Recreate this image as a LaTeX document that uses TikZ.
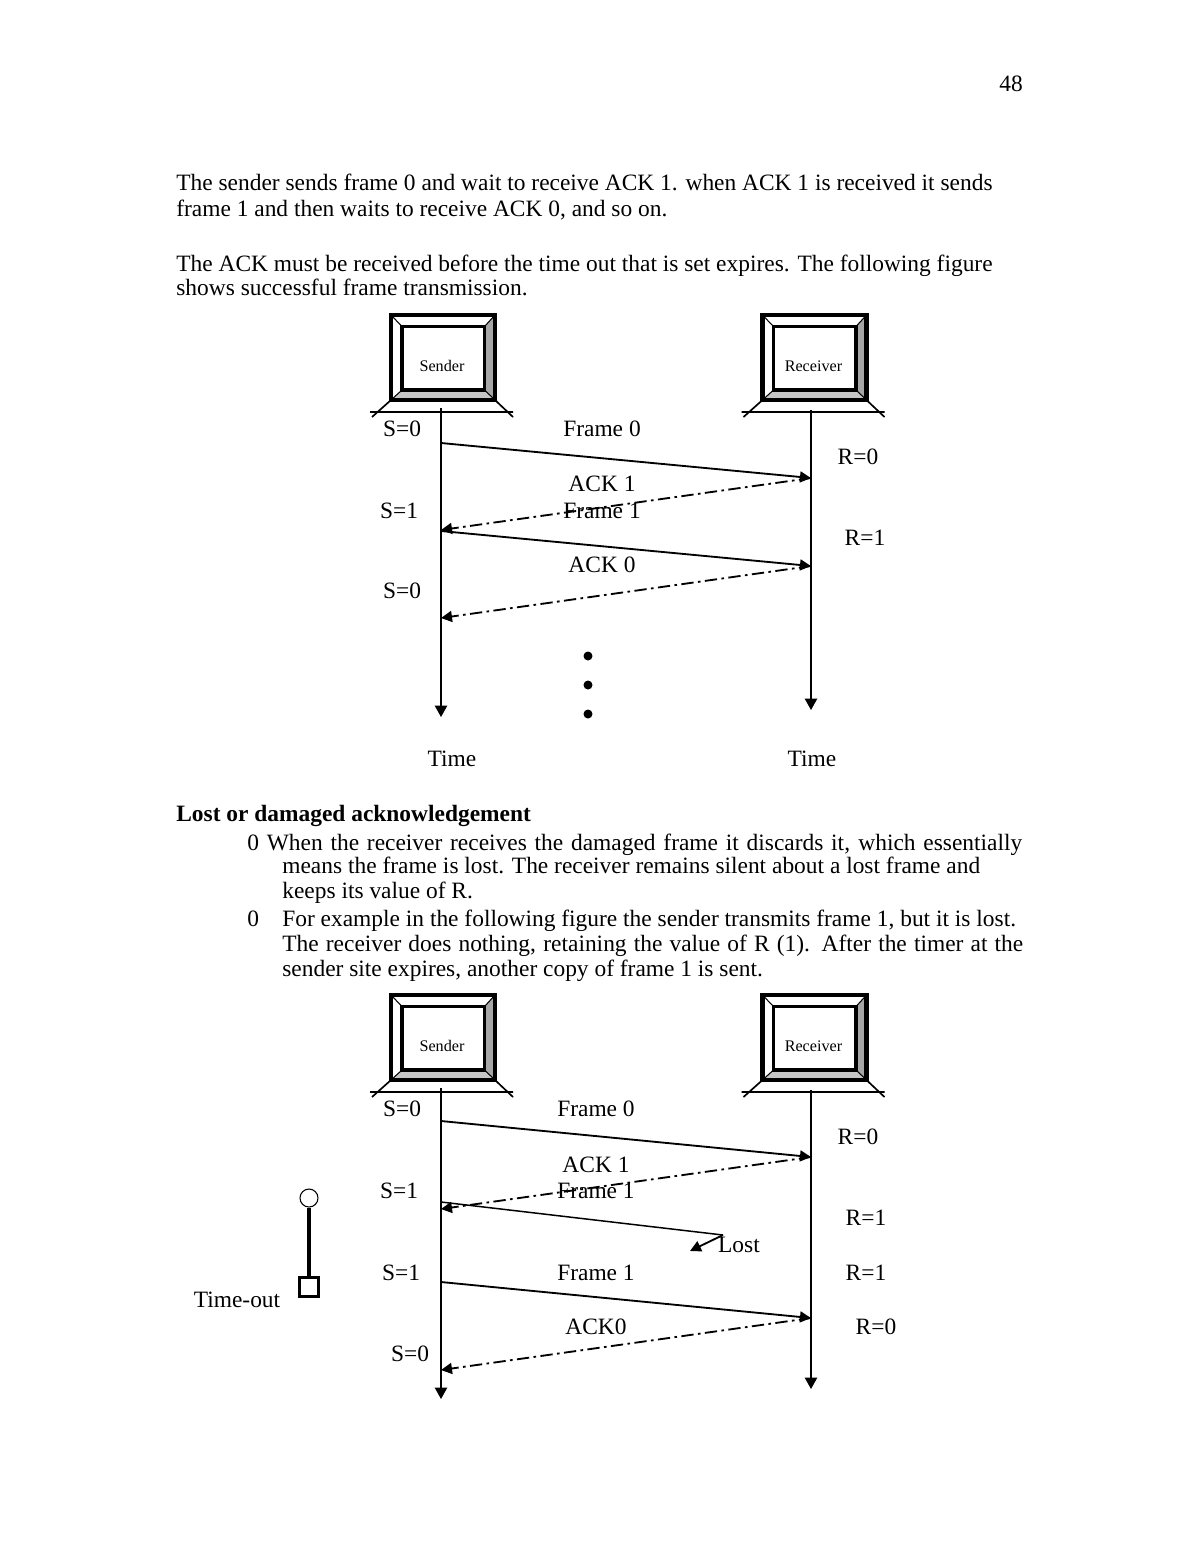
\documentclass[tikz,border=0pt]{standalone}
\usepackage{fontspec}
\setmainfont{Liberation Serif}
\usetikzlibrary{arrows.meta}
\tikzset{
	txt/.style={font=\fontsize{13.33pt}{15pt}\selectfont, inner sep=0pt, text height=10pt, text depth=1.7pt},
	para/.style={txt, anchor=west},
	msg/.style={line width=1.05pt, -{Triangle[length=0.22cm,width=0.22cm]}},
	reply/.style={msg, dash pattern=on 7pt off 2.5pt on 1.5pt off 2.5pt},
	timeline/.style={line width=0.75pt, -{Triangle[length=0.23cm,width=0.25cm]}}
}
\begin{document}
\begin{tikzpicture}[x=0.02cm, y=-0.02cm]
	\useasboundingbox (0,0) rectangle (1200,1553);
	% page text
	\node[txt] (page) at (1011,84) {48};
	\node[para] (p1) at (176,183) {The sender sends frame 0 and wait to receive ACK 1. when ACK 1 is received it sends};
	\node[para] (p2) at (176,209) {frame 1 and then waits to receive ACK 0, and so on.};
	\node[para] (p3) at (176,264) {The ACK must be received before the time out that is set expires. The following figure};
	\node[para] (p4) at (176,288) {shows successful frame transmission.};
	\node[para, font=\fontsize{13.33pt}{15pt}\selectfont\bfseries] (head) at (176,814) {Lost or damaged acknowledgement};
	\node[para] (p5) at (247,843) {\makebox[15.5cm][s]{0 When the receiver receives the damaged frame it discards it, which essentially}};
	\node[para] (p6) at (282,866) {means the frame is lost. The receiver remains silent about a lost frame and};
	\node[para] (p7) at (282,891) {keeps its value of R.};
	\node[para] (p8a) at (247,919) {0};
	\node[para] (p8) at (282,919) {For example in the following figure the sender transmits frame 1, but it is lost.};
	\node[para] (p9) at (282,944) {\makebox[14.82cm][s]{The receiver does nothing, retaining the value of R (1). After the timer at the}};
	\node[para] (p10) at (282,969) {sender site expires, another copy of frame 1 is sent.};
	% computers
	\foreach \n/\l/\x/\y in {sa/Sender/391/315, ra/Receiver/762.5/315, sb/Sender/391/995, rb/Receiver/762.5/995} {
		\begin{scope}[shift={(\x,\y)}]
			\fill[gray!70] (104,0) -- (104,85) -- (93.5,75) -- (93.5,11.5) -- cycle;
			\fill[gray!45] (0,85) -- (104,85) -- (93.5,75) -- (11,75) -- cycle;
			\draw[line width=0.6pt] (0,0) -- (11,11.5) (104,0) -- (93.5,11.5) (0,85) -- (11,75) (104,85) -- (93.5,75);
			\draw[line width=2.4pt] (0,0) rectangle (104,85);
			\draw[line width=2.2pt] (11,11.5) rectangle (93.5,75);
			\draw[line width=0.95pt] (-21,97) -- (122,97) (0,85) -- (-19,102) (104,85) -- (122,102);
			\node[font=\fontsize{9.2pt}{10pt}\selectfont, inner sep=0pt] (\n) at (51,51) {\l};
		\end{scope}
	}
	% successful transmission
	\foreach \n/\x/\y/\l in {a1/402/429/S=0, a2/602/429/Frame 0, a3/858/457/R=0, a4/602/484/ACK 1, a5/399/511/S=1, a6/602/511/Frame 1, a7/865/538/R=1, a8/602/565/ACK 0, a9/402/591/S=0, a10/452/759/Time, a11/812/759/Time} {\node[txt] (\n) at (\x,\y) {\l};}
	\coordinate (sat) at (441,408);
	\coordinate (sae) at (441,717);
	\coordinate (rat) at (811,410);
	\coordinate (rae) at (811,710);
	\draw[timeline] (sat) -- (sae);
	\draw[timeline] (rat) -- (rae);
	\coordinate (af0) at (441,443);
	\coordinate (ar0) at (811,478);
	\coordinate (as1) at (441,530);
	\coordinate (af1) at (441,531);
	\coordinate (ar1) at (811,566);
	\coordinate (as0) at (441,618);
	\draw[msg] (af0) -- (ar0);
	\draw[reply] (ar0) -- (as1);
	\draw[msg] (af1) -- (ar1);
	\draw[reply] (ar1) -- (as0);
	\foreach \y in {656,685,714} {\fill (588,\y) circle (4.5);}
	% lost frame
	\foreach \n/\x/\y/\l in {b1/402/1109/S=0, b2/596/1109/Frame 0, b3/858/1137/R=0, b4/596/1165/ACK 1, b5/399/1191/S=1, b6/596/1191/Frame 1, b7/866/1218/R=1, b8/739/1245/Lost, b9/401/1273/S=1, b10/596/1273/Frame 1, b11/866/1273/R=1, b12/596/1327/ACK0, b13/876/1327/R=0, b14/410/1354/S=0, b15/237/1300/Time-out} {\node[txt] (\n) at (\x,\y) {\l};}
	\coordinate (sbt) at (441,1088);
	\coordinate (sbe) at (441,1399);
	\coordinate (rbt) at (811,1090);
	\coordinate (rbe) at (811,1389);
	\draw[timeline] (sbt) -- (sbe);
	\draw[timeline] (rbt) -- (rbe);
	\coordinate (bf0) at (441,1121);
	\coordinate (br0) at (811,1157);
	\coordinate (bs1) at (441,1209);
	\coordinate (bf1) at (441,1202);
	\coordinate (bl) at (723,1235);
	\coordinate (bd) at (690,1251);
	\coordinate (bf2) at (441,1282);
	\coordinate (br1) at (811,1318);
	\coordinate (bs0) at (441,1370);
	\draw[msg] (bf0) -- (br0);
	\draw[reply] (br0) -- (bs1);
	\draw[line width=0.85pt] (bf1) -- (bl);
	\draw[msg] (bl) -- (bd);
	\draw[msg] (bf2) -- (br1);
	\draw[reply] (br1) -- (bs0);
	% timer
	\node[draw, circle, minimum size=0.36cm, inner sep=0pt, line width=0.6pt] (timer) at (309,1198) {};
	\node[draw, minimum size=0.38cm, inner sep=0pt, line width=1.6pt] (stop) at (309,1287) {};
	\draw[line width=2pt] (timer) -- (stop);
\end{tikzpicture}
\end{document}
